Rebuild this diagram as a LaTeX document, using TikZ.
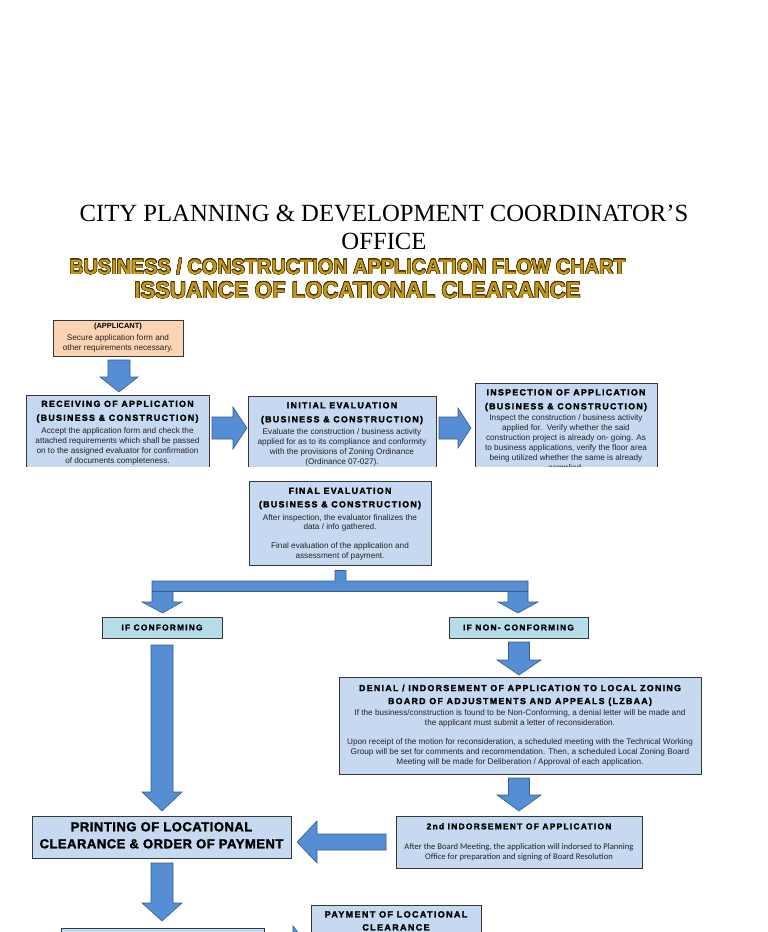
\documentclass[tikz,border=0pt]{standalone}
\usepackage{fontspec}
\usepackage{contour}
\setmainfont{Liberation Sans}
\newfontfamily\tnr{Liberation Serif}
\newfontfamily\hdf{Liberation Sans}[LetterSpace=15,FakeBold=2.2]
\newfontfamily\hdp{Liberation Sans}[LetterSpace=4,FakeBold=2]
\newfontfamily\carl{Carlito}
\usetikzlibrary{calc}
\definecolor{boxblue}{RGB}{198,217,241}
\definecolor{ifcyan}{RGB}{183,222,232}
\definecolor{peach}{RGB}{251,212,180}
\definecolor{boxline}{RGB}{55,55,55}
\definecolor{arrfill}{RGB}{85,142,213}
\definecolor{arrline}{RGB}{56,93,138}
\definecolor{bodytxt}{RGB}{35,35,35}
\definecolor{gold}{RGB}{198,152,22}
\definecolor{goldline}{RGB}{60,42,8}
\contourlength{0.5pt}
\tikzset{
  bbox/.style={draw=boxline, line width=0.9pt, fill=boxblue, inner sep=0pt, anchor=north west},
  pbox/.style={bbox, fill=peach},
  cbox/.style={bbox, fill=ifcyan},
  blk/.style={fill=arrfill, draw=arrline, line width=0.6pt, line join=miter},
  hd/.style={anchor=north, inner sep=0pt, align=center, font=\hdf\bfseries\fontsize{8.8}{14}\selectfont},
  bd/.style={anchor=north, inner sep=0pt, align=center, text=bodytxt, font=\fontsize{8.2}{10}\selectfont}
}
% vertical (downward) block arrow: start, tip, shaft half, head half, head length
\newcommand\vblk[5]{\filldraw[blk] ($(#1)+(-#3,0)$) -- ($(#1)+(#3,0)$) -- ($(#2)+(#3,-#5)$) -- ($(#2)+(#4,-#5)$) -- (#2) -- ($(#2)+(-#4,-#5)$) -- ($(#2)+(-#3,-#5)$) -- cycle;}
% rightward block arrow
\newcommand\rblk[5]{\filldraw[blk] ($(#1)+(0,-#3)$) -- ($(#2)+(-#5,-#3)$) -- ($(#2)+(-#5,-#4)$) -- (#2) -- ($(#2)+(-#5,#4)$) -- ($(#2)+(-#5,#3)$) -- ($(#1)+(0,#3)$) -- cycle;}
% leftward block arrow
\newcommand\lblk[5]{\filldraw[blk] ($(#1)+(0,-#3)$) -- ($(#2)+(#5,-#3)$) -- ($(#2)+(#5,-#4)$) -- (#2) -- ($(#2)+(#5,#4)$) -- ($(#2)+(#5,#3)$) -- ($(#1)+(0,#3)$) -- cycle;}
\begin{document}
\begin{tikzpicture}[x=1pt,y=-1pt]
\useasboundingbox (0,0) rectangle (768,932);
\clip (0,0) rectangle (768,932);

% titles
\node[anchor=base, inner sep=0pt, font=\tnr\fontsize{24.7}{28}\selectfont] (t1) at (384,221) {CITY PLANNING \& DEVELOPMENT COORDINATOR’S};
\node[anchor=base, inner sep=0pt, font=\tnr\fontsize{24.7}{28}\selectfont] (t2) at (384,249) {OFFICE};
\node[anchor=base, inner sep=0pt, font=\bfseries\fontsize{21}{24}\selectfont] (t3) at (347.5,274) {\scalebox{0.947}[1]{\contour{goldline}{\textcolor{gold}{BUSINESS / CONSTRUCTION APPLICATION FLOW CHART}}}};
\node[anchor=base, inner sep=0pt, font=\bfseries\fontsize{23}{26}\selectfont] (t4) at (357.5,298) {\scalebox{0.963}[1]{\contour{goldline}{\textcolor{gold}{ISSUANCE OF LOCATIONAL CLEARANCE}}}};

% applicant
\node[pbox, minimum width=130pt, minimum height=36pt] (app) at (53,320) {};
\node[anchor=north, inner sep=0pt, font=\bfseries\fontsize{7.5}{10}\selectfont] (appT) at (118,323) {(APPLICANT)};
\node[bd] (appB) at (118,334) {Secure application form and\\other requirements necessary.};

% top row (cut at page edge)
\begin{scope}
\clip (0,0) rectangle (768,466);
\node[bbox, minimum width=183pt, minimum height=90pt] (recv) at (26,395) {};
\node[hd] (recvT) at (117.5,400.5) {RECEIVING OF APPLICATION\\(BUSINESS \& CONSTRUCTION)};
\node[bd] (recvB) at (117.5,427) {Accept the application form and check the\\attached requirements which shall be passed\\on to the assigned evaluator for confirmation\\of documents completeness.};

\node[bbox, minimum width=188pt, minimum height=90pt] (init) at (248,396) {};
\node[hd] (initT) at (342,402) {INITIAL EVALUATION\\(BUSINESS \& CONSTRUCTION)};
\node[bd] (initB) at (342,428) {Evaluate the construction / business activity\\applied for as to its compliance and conformity\\with the provisions of Zoning Ordinance\\(Ordinance 07-027).};

\node[bbox, minimum width=182pt, minimum height=100pt] (insp) at (475,383) {};
\node[hd] (inspT) at (566,389) {INSPECTION OF APPLICATION\\(BUSINESS \& CONSTRUCTION)};
\node[bd] (inspB) at (566,414) {Inspect the construction / business activity\\applied for.\ \ Verify whether the said\\construction project is already on- going. As\\to business applications, verify the floor area\\being utilized whether the same is already\\complied.};
\end{scope}

% arrows top
\coordinate (a1s) at (119,360); \coordinate (a1t) at (119,392);
\vblk{a1s}{a1t}{11}{19}{15}
\coordinate (a2s) at (212,428); \coordinate (a2t) at (247,428);
\rblk{a2s}{a2t}{11}{21}{14}
\coordinate (a3s) at (439,428); \coordinate (a3t) at (471,428);
\rblk{a3s}{a3t}{11}{20}{13}

% final evaluation
\node[bbox, minimum width=182pt, minimum height=84pt] (fin) at (249,481) {};
\node[hd, font=\hdf\bfseries\fontsize{8.8}{13.5}\selectfont] (finT) at (340,487.5) {FINAL EVALUATION\\(BUSINESS \& CONSTRUCTION)};
\node[bd, font=\fontsize{8.2}{9.8}\selectfont] (finB) at (340,514) {After inspection, the evaluator finalizes the\\data / info gathered.\\[9pt]Final evaluation of the application and\\assessment of payment.};

% split connector
\filldraw[blk] (152,581) -- (335,581) -- (335,570.5) -- (346,570.5) -- (346,581) -- (528,581) -- (528,602) -- (538,602) -- (518,613) -- (498,602) -- (508,602) -- (508,591.5) -- (173,591.5) -- (173,602) -- (182,602) -- (162.5,613) -- (142,602) -- (152,602) -- cycle;
\draw[arrline, line width=0.6pt] (152,591.5) -- (173,591.5) (508,591.5) -- (528,591.5);

% IF boxes
\node[cbox, minimum width=120pt, minimum height=21pt] (ifc) at (102,617) {};
\node[inner sep=0pt, font=\hdf\bfseries\fontsize{8.3}{9}\selectfont] (ifcT) at (162,627.5) {IF CONFORMING};
\node[cbox, minimum width=139pt, minimum height=21pt] (ifn) at (449,617) {};
\node[inner sep=0pt, font=\hdf\bfseries\fontsize{8.4}{9}\selectfont] (ifnT) at (518.5,627.5) {IF NON- CONFORMING};

% denial
\node[bbox, minimum width=362pt, minimum height=97pt] (den) at (339,677) {};
\node[hd, font=\hdf\bfseries\fontsize{8.8}{13}\selectfont] (denT) at (520,684.5) {DENIAL / INDORSEMENT OF APPLICATION TO LOCAL ZONING\\BOARD OF ADJUSTMENTS AND APPEALS (LZBAA)};
\node[bd] (denB) at (520,709) {If the business/construction is found to be Non-Conforming, a denial letter will be made and\\the applicant must submit a letter of reconsideration.\\[9pt]Upon receipt of the motion for reconsideration, a scheduled meeting with the Technical Working\\Group will be set for comments and recommendation. Then, a scheduled Local Zoning Board\\Meeting will be made for Deliberation / Approval of each application.};

% printing
\node[bbox, minimum width=259pt, minimum height=42pt] (prt) at (32,816) {};
\node[anchor=north, inner sep=0pt, align=center, font=\hdp\bfseries\fontsize{13}{17}\selectfont] (prtT) at (161.5,822) {PRINTING OF LOCATIONAL\\CLEARANCE \& ORDER OF PAYMENT};

% second indorsement
\node[bbox, minimum width=246pt, minimum height=52pt] (snd) at (396,816) {};
\node[hd, font=\hdf\bfseries\fontsize{8.4}{10}\selectfont] (sndT) at (519,823) {2nd INDORSEMENT OF APPLICATION};
\node[bd, font=\carl\fontsize{8.6}{10}\selectfont] (sndB) at (519,843.5) {After the Board Meeting, the application will indorsed to Planning\\Office for preparation and signing of Board Resolution};

% bottom boxes (cut at page edge)
\node[bbox, minimum width=203pt, minimum height=40pt] (rel) at (61,928) {};
\node[bbox, minimum width=170pt, minimum height=50pt] (pay) at (311,905) {};
\node[hd, font=\hdf\bfseries\fontsize{9}{13}\selectfont] (payT) at (396,911) {PAYMENT OF LOCATIONAL\\CLEARANCE};

% lower arrows
\coordinate (a4s) at (162,645); \coordinate (a4t) at (162,811);
\vblk{a4s}{a4t}{11}{20}{19}
\coordinate (a5s) at (519,642); \coordinate (a5t) at (519,675);
\vblk{a5s}{a5t}{10.5}{22}{15}
\coordinate (a6s) at (519,778); \coordinate (a6t) at (519,811);
\vblk{a6s}{a6t}{10.5}{22}{16}
\coordinate (a7s) at (386,842); \coordinate (a7t) at (297,842);
\lblk{a7s}{a7t}{8}{21}{20}
\coordinate (a8s) at (162,863); \coordinate (a8t) at (162,921);
\vblk{a8s}{a8t}{11}{20}{18}
\coordinate (a9s) at (268,946); \coordinate (a9t) at (309,946);
\rblk{a9s}{a9t}{8}{20}{16}
\end{tikzpicture}
\end{document}
